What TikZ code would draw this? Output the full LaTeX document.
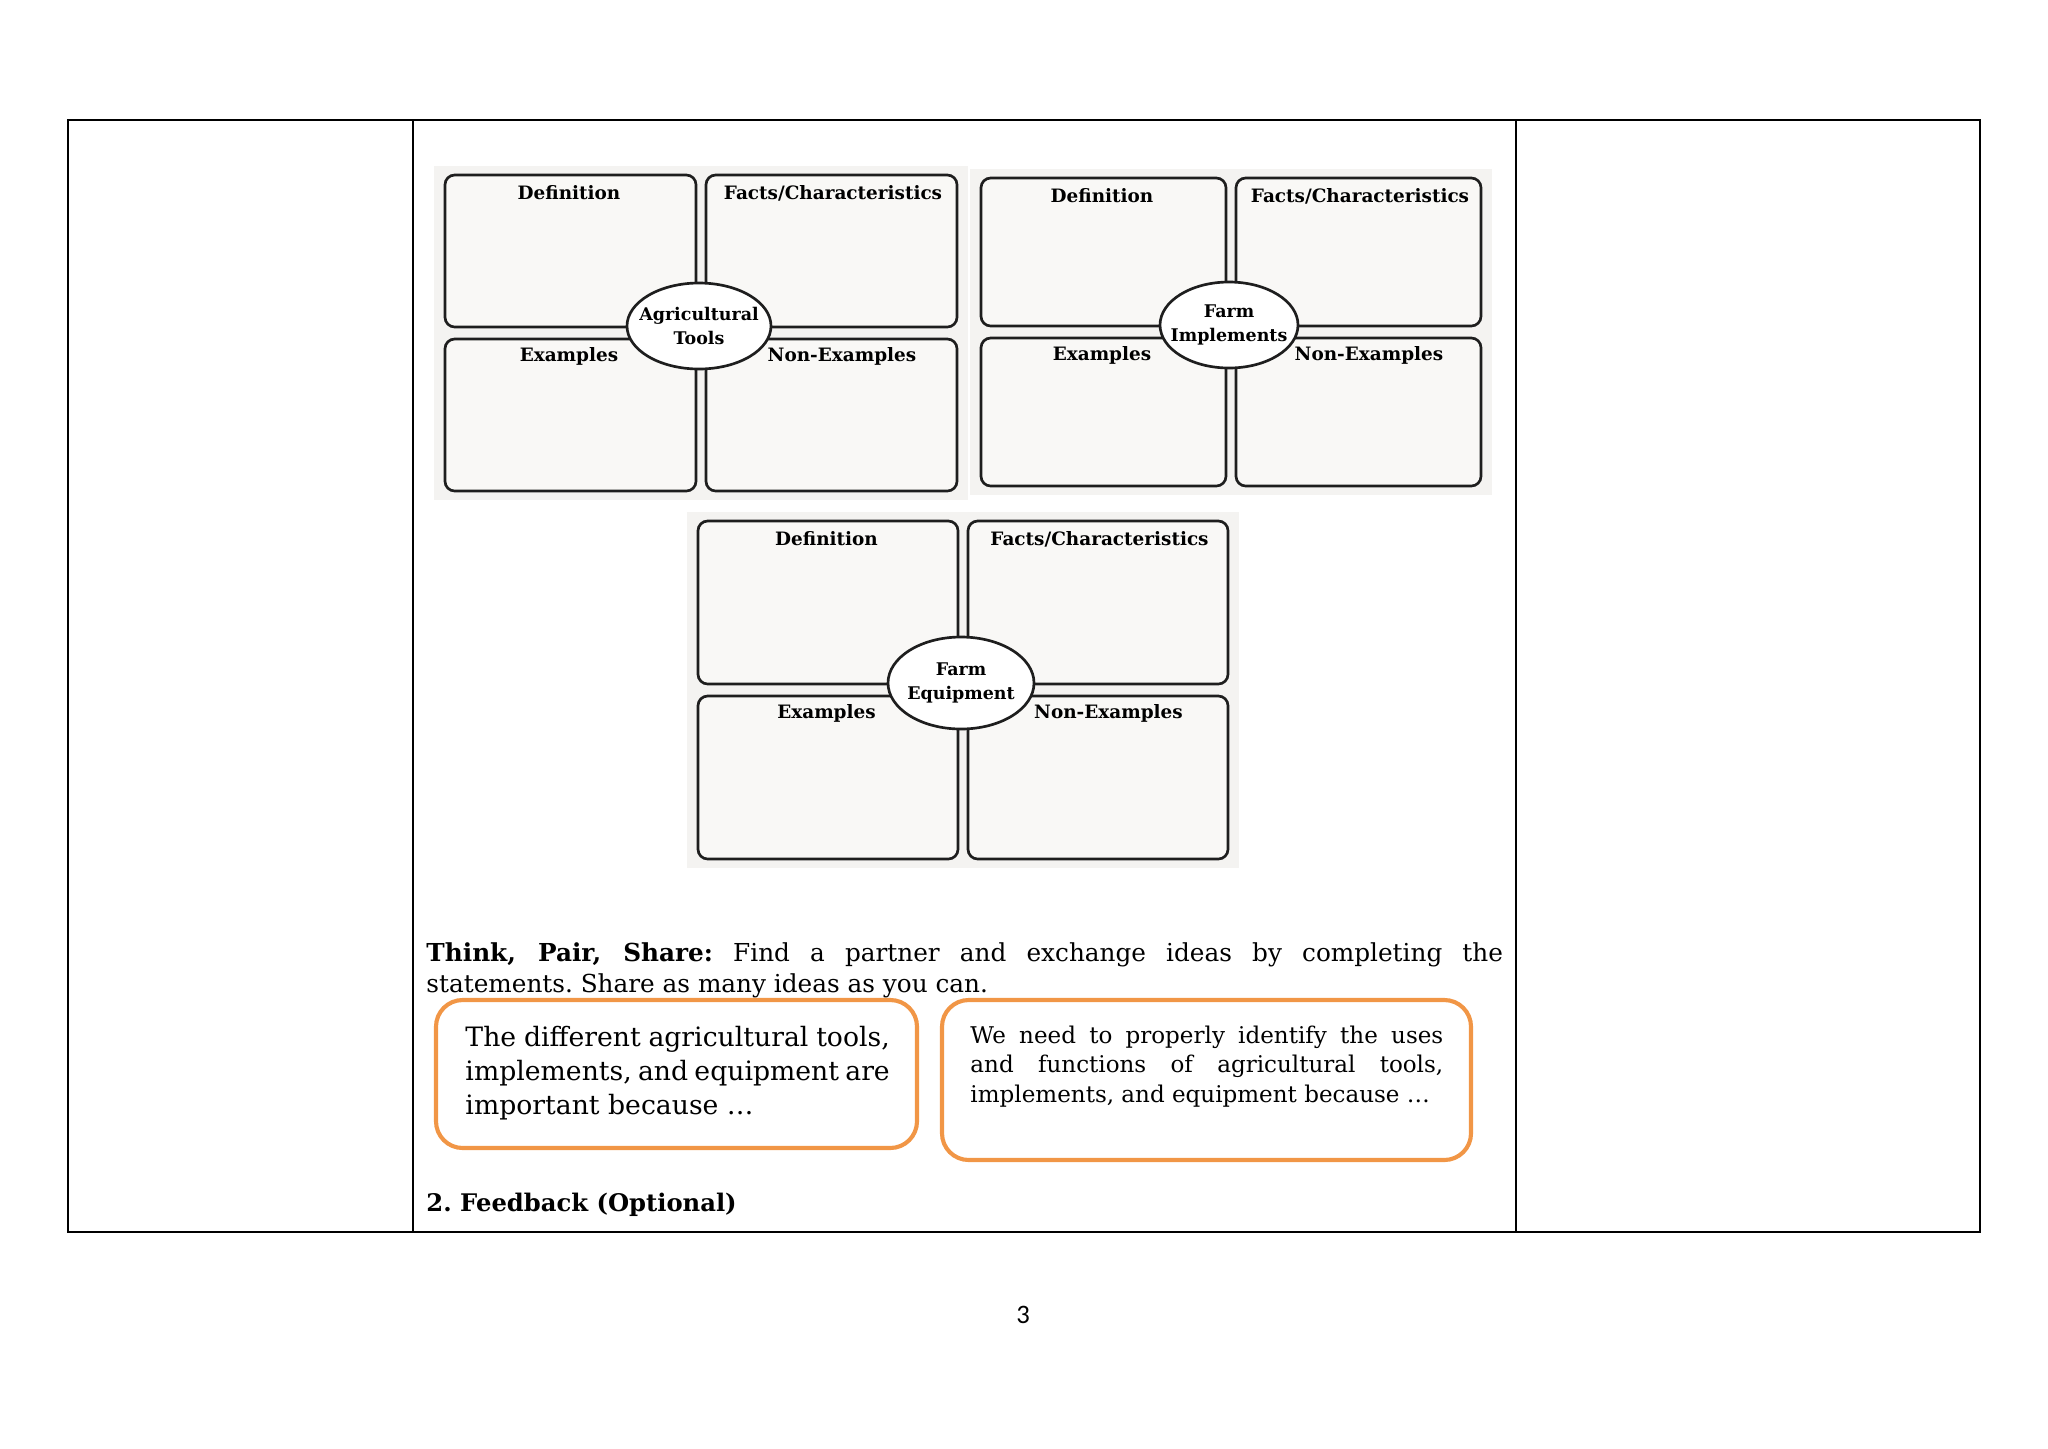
\documentclass[tikz,border=0pt]{standalone}
\usepackage{fontspec}
\setmainfont{DejaVu Serif}
\newfontfamily\pagefont{Carlito}
\usetikzlibrary{positioning,shapes.geometric}
\definecolor{FrayerBg}{RGB}{244,243,241}
\definecolor{FrayerFill}{RGB}{249,248,246}
\definecolor{FrayerLine}{RGB}{30,30,30}
\definecolor{PromptOrange}{RGB}{241,150,70}
\tikzset{
  frayer bg/.style={fill=FrayerBg, draw=none},
  frayer box/.style={draw=FrayerLine, fill=FrayerFill, line width=1.1pt, rounded corners=4pt},
  frayer hub/.style={draw=FrayerLine, fill=white, line width=1.1pt},
  frayer title/.style={font=\fontsize{7.6}{8.5}\selectfont\bfseries, inner sep=0pt, anchor=north},
  frayer hub text/.style={font=\fontsize{7.2}{9.6}\selectfont\bfseries, align=center, inner sep=0pt},
  table rule/.style={line width=1.2pt, black},
  prompt box/.style={draw=PromptOrange, line width=1.7pt, rounded corners=11pt},
  prompt text/.style={align=justify, inner sep=0pt, anchor=north west}
}

\begin{document}
\frenchspacing
\begin{tikzpicture}[x=0.0145cm, y=-0.0145cm]
\useasboundingbox (0,0) rectangle (2048,1448);
% table frame
\draw[table rule] (68,120) rectangle (1980,1232);
\draw[table rule] (413,120) -- (413,1232);
\draw[table rule] (1516,120) -- (1516,1232);

% the three frayer models
\foreach \cx/\cy/\hw/\hh/\rx/\ry/\hub/\nm in {
  701/333/256/158/72/43/{Agricultural\\Tools}/tools,
  1231/332/250/154/69/43/{Farm\\Implements}/impl,
  963/690/265/169/73/46/{Farm\\Equipment}/equip}{
  \fill[frayer bg] (\cx-\hw-11,\cy-\hh-9) rectangle (\cx+\hw+11,\cy+\hh+9);
  \draw[frayer box] (\cx-\hw,\cy-\hh) rectangle (\cx-5,\cy-6);
  \draw[frayer box] (\cx+5,\cy-\hh) rectangle (\cx+\hw,\cy-6);
  \draw[frayer box] (\cx-\hw,\cy+6) rectangle (\cx-5,\cy+\hh);
  \draw[frayer box] (\cx+5,\cy+6) rectangle (\cx+\hw,\cy+\hh);
  \node[frayer title] (\nm-def) at (\cx-\hw/2-4,\cy-\hh+10) {Definition};
  \node[frayer title] (\nm-fact) at (\cx+\hw/2+4,\cy-\hh+10) {Facts/Characteristics};
  \node[frayer title] (\nm-ex) at (\cx-\hw/2-4,\cy+14) {Examples};
  \node[frayer title] (\nm-nonex) at (\cx+\hw/2+13,\cy+14) {Non-Examples};
  \draw[frayer hub] (\cx-2,\cy-7) ellipse [x radius=\rx, y radius=\ry];
  \node[frayer hub text] (\nm-hub) at (\cx-2,\cy-7) {\hub};
}

% think, pair, share
\node[prompt text, text width=444pt, font=\fontsize{10.2}{13}\selectfont] (think) at (426,942)
  {\textbf{Think, Pair, Share:} Find a partner and exchange ideas by completing the\linebreak statements. Share as many ideas as you can.};

\draw[prompt box] (436,1000) rectangle (917,1148);
\node[prompt text, text width=175pt, font=\fontsize{11}{14}\selectfont] (why) at (465,1026)
  {The different agricultural tools,\linebreak implements, and equipment are\linebreak important because \dots};

\draw[prompt box] (942,1000) rectangle (1471,1160);
\node[prompt text, text width=195pt, font=\fontsize{9.5}{12.3}\selectfont] (need) at (970,1025)
  {We need to properly identify the uses\linebreak and functions of agricultural tools,\linebreak implements, and equipment because \dots};

\node[anchor=west, inner sep=0pt, font=\fontsize{10}{13}\selectfont\bfseries] (feedback) at (426,1205) {2. Feedback (Optional)};

\node[font=\pagefont\fontsize{11}{13}\selectfont] (pagenum) at (1023,1315) {3};
\end{tikzpicture}
\end{document}
